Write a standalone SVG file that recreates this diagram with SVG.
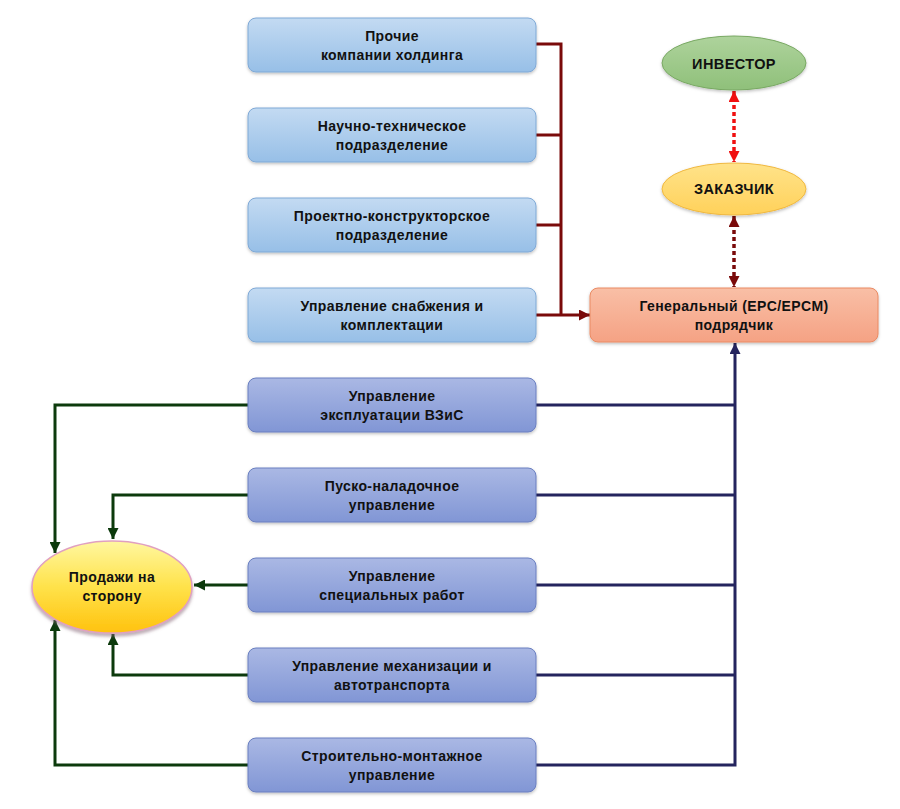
<svg xmlns="http://www.w3.org/2000/svg" width="900" height="809" viewBox="0 0 900 809">
<defs>
<linearGradient id="gTop" x1="0" y1="0" x2="0" y2="1"><stop offset="0" stop-color="#c3daf2"/><stop offset="1" stop-color="#97bfe7"/></linearGradient>
<linearGradient id="gBot" x1="0" y1="0" x2="0" y2="1"><stop offset="0" stop-color="#aab8e4"/><stop offset="1" stop-color="#8196d5"/></linearGradient>
<linearGradient id="gGC" x1="0" y1="0" x2="0" y2="1"><stop offset="0" stop-color="#f9bfa6"/><stop offset="1" stop-color="#f5a284"/></linearGradient>
<linearGradient id="gInv" x1="0" y1="0" x2="0" y2="1"><stop offset="0" stop-color="#aed39c"/><stop offset="1" stop-color="#8fc07a"/></linearGradient>
<linearGradient id="gCus" x1="0" y1="0" x2="0" y2="1"><stop offset="0" stop-color="#ffe38a"/><stop offset="1" stop-color="#ffd15a"/></linearGradient>
<linearGradient id="gSal" x1="0" y1="0" x2="0" y2="1"><stop offset="0" stop-color="#fff7a0"/><stop offset="0.5" stop-color="#ffe24a"/><stop offset="1" stop-color="#ffc20e"/></linearGradient>
<filter id="sh" x="-10%" y="-20%" width="120%" height="150%"><feDropShadow dx="0" dy="1.5" stdDeviation="1.5" flood-color="#000" flood-opacity="0.25"/></filter>
<filter id="sh2" x="-10%" y="-20%" width="120%" height="150%"><feDropShadow dx="0" dy="3" stdDeviation="1.5" flood-color="#806070" flood-opacity="0.5"/></filter>
<marker id="aM" viewBox="0 0 10 10" refX="10" refY="5" markerWidth="11" markerHeight="11" markerUnits="userSpaceOnUse" orient="auto"><path d="M0,0 L10,5 L0,10 z" fill="#7a0a0a"/></marker>
<marker id="aMs" viewBox="0 0 10 10" refX="10" refY="5" markerWidth="11" markerHeight="11" markerUnits="userSpaceOnUse" orient="auto-start-reverse"><path d="M0,0 L10,5 L0,10 z" fill="#7a0a0a"/></marker>
<marker id="aR" viewBox="0 0 10 10" refX="10" refY="5" markerWidth="11" markerHeight="11" markerUnits="userSpaceOnUse" orient="auto-start-reverse"><path d="M0,0 L10,5 L0,10 z" fill="#f01010"/></marker>
<marker id="aB" viewBox="0 0 10 10" refX="10" refY="5" markerWidth="11" markerHeight="11" markerUnits="userSpaceOnUse" orient="auto"><path d="M0,0 L10,5 L0,10 z" fill="#24245e"/></marker>
<marker id="aG" viewBox="0 0 10 10" refX="10" refY="5" markerWidth="11" markerHeight="11" markerUnits="userSpaceOnUse" orient="auto"><path d="M0,0 L10,5 L0,10 z" fill="#0c3a0c"/></marker>
</defs>
<style>
text{font-family:"Liberation Sans",Arial,sans-serif;font-weight:bold;font-size:14px;letter-spacing:0.4px;fill:#111111;text-anchor:middle}
.big{font-size:14.5px}
.top{fill:url(#gTop);stroke:#7fa9d6;stroke-width:1}
.bot{fill:url(#gBot);stroke:#6a7fc0;stroke-width:1}
.mar{fill:none;stroke:#7a0a0a;stroke-width:3}
.blu{fill:none;stroke:#24245e;stroke-width:3}
.grn{fill:none;stroke:#0c3a0c;stroke-width:3}
</style>
<rect width="900" height="809" fill="#ffffff"/>

<g id="connectors">
<path class="mar" d="M536,44 H561 V315"/>
<path class="mar" d="M536,135 H561"/>
<path class="mar" d="M536,225 H561"/>
<path class="mar" d="M536,315 H590" marker-end="url(#aM)"/>
<path d="M734,91 V162" fill="none" stroke="#f01010" stroke-width="3.5" stroke-dasharray="4,3" marker-start="url(#aR)" marker-end="url(#aR)"/>
<path d="M734,216 V287" fill="none" stroke="#7a0a0a" stroke-width="3.5" stroke-dasharray="4,3" marker-start="url(#aMs)" marker-end="url(#aMs)"/>
<path class="blu" d="M536,405 H735"/>
<path class="blu" d="M536,495 H735"/>
<path class="blu" d="M536,585 H735"/>
<path class="blu" d="M536,675 H735"/>
<path class="blu" d="M536,765 H735 V343" marker-end="url(#aB)"/>
<path class="grn" d="M248,405 H55 V553" marker-end="url(#aG)"/>
<path class="grn" d="M248,495 H113 V539" marker-end="url(#aG)"/>
<path class="grn" d="M248,585 H194" marker-end="url(#aG)"/>
<path class="grn" d="M248,675 H113 V634" marker-end="url(#aG)"/>
<path class="grn" d="M248,765 H55 V620" marker-end="url(#aG)"/>
</g>

<g id="n-prochie"><rect class="top" x="248" y="18" width="288" height="54" rx="8" filter="url(#sh)"/><text x="392" y="40.5">Прочие</text><text x="392" y="59.5">компании холдинга</text></g>
<g id="n-nauchno"><rect class="top" x="248" y="108" width="288" height="54" rx="8" filter="url(#sh)"/><text x="392" y="130.5">Научно-техническое</text><text x="392" y="149.5">подразделение</text></g>
<g id="n-proektno"><rect class="top" x="248" y="198" width="288" height="54" rx="8" filter="url(#sh)"/><text x="392" y="220.5">Проектно-конструкторское</text><text x="392" y="239.5">подразделение</text></g>
<g id="n-snab"><rect class="top" x="248" y="288" width="288" height="54" rx="8" filter="url(#sh)"/><text x="392" y="310.5">Управление снабжения и</text><text x="392" y="329.5">комплектации</text></g>

<g id="n-expl"><rect class="bot" x="248" y="378" width="288" height="54" rx="8" filter="url(#sh)"/><text x="392" y="400.5">Управление</text><text x="392" y="419.5">эксплуатации ВЗиС</text></g>
<g id="n-pusko"><rect class="bot" x="248" y="468" width="288" height="54" rx="8" filter="url(#sh)"/><text x="392" y="490.5">Пуско-наладочное</text><text x="392" y="509.5">управление</text></g>
<g id="n-spec"><rect class="bot" x="248" y="558" width="288" height="54" rx="8" filter="url(#sh)"/><text x="392" y="580.5">Управление</text><text x="392" y="599.5">специальных работ</text></g>
<g id="n-mech"><rect class="bot" x="248" y="648" width="288" height="54" rx="8" filter="url(#sh)"/><text x="392" y="670.5">Управление механизации и</text><text x="392" y="689.5">автотранспорта</text></g>
<g id="n-smu"><rect class="bot" x="248" y="738" width="288" height="54" rx="8" filter="url(#sh)"/><text x="392" y="760.5">Строительно-монтажное</text><text x="392" y="779.5">управление</text></g>

<g id="n-gc"><rect x="590" y="288" width="288" height="54" rx="8" fill="url(#gGC)" stroke="#ea8a62" stroke-width="1" filter="url(#sh)"/><text x="734" y="311">Генеральный (EPC/EPCM)</text><text x="734" y="330">подрядчик</text></g>
<g id="n-investor"><ellipse cx="734" cy="63" rx="72" ry="27" fill="url(#gInv)" stroke="#78a862" stroke-width="1" filter="url(#sh)"/><text class="big" x="734" y="68.5">ИНВЕСТОР</text></g>
<g id="n-customer"><ellipse cx="734" cy="189" rx="72" ry="26" fill="url(#gCus)" stroke="#f0b840" stroke-width="1" filter="url(#sh)"/><text class="big" x="734" y="194">ЗАКАЗЧИК</text></g>
<g id="n-sales"><ellipse cx="112" cy="587" rx="80" ry="46" fill="url(#gSal)" stroke="#e0a0c0" stroke-width="1.5" filter="url(#sh2)"/><text x="112" y="582">Продажи на</text><text x="112" y="601">сторону</text></g>
</svg>
